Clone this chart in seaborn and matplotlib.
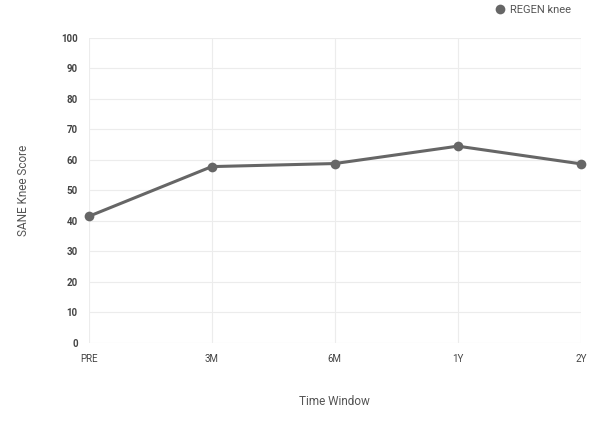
import matplotlib
matplotlib.use("Agg")
import matplotlib.pyplot as plt
import seaborn as sns
import pandas as pd

# --- DATA ---
windows = ["PRE", "3M", "6M", "1Y", "2Y"]
scores = [41.5, 57.8, 58.8, 64.5, 58.7]
series_name = "REGEN knee"

df = pd.DataFrame({"Window": windows, "Score": scores})

sns.set_theme(style="white")
plt.rcParams["font.family"] = ["Roboto", "DejaVu Sans"]

fig = plt.figure(figsize=(6, 4.25), dpi=100)
ax = fig.add_axes([0.148, 0.193, 0.82, 0.718])

sns.lineplot(data=df, x="Window", y="Score", marker="o", color="#666666",
             linewidth=2.2, markersize=7, markeredgewidth=0, sort=False, ax=ax,
             label=series_name, clip_on=False, zorder=5)

ax.set_ylim(0, 100)
ax.set_xlim(0, len(windows) - 1)
ax.set_yticks(range(0, 101, 10))
ax.grid(True, color="#ececec", linewidth=0.8)
for s in ax.spines.values():
    s.set_visible(False)
ax.tick_params(axis="both", length=0, labelsize=7, labelcolor="#444444", pad=8)
for lbl in ax.get_yticklabels():
    lbl.set_fontweight("bold")
ax.set_xlabel("Time Window", fontsize=8.5, color="#555555", labelpad=22)
ax.set_ylabel("SANE Knee Score", fontsize=8.5, color="#555555", labelpad=22)

leg = ax.legend(loc="upper right", bbox_to_anchor=(1.0, 1.14), frameon=False,
                fontsize=8, handlelength=0.8, handletextpad=0.5)
for h in leg.legend_handles:
    h.set_linestyle("")
for t in leg.get_texts():
    t.set_color("#555555")

fig.savefig("out.png", dpi=100)
